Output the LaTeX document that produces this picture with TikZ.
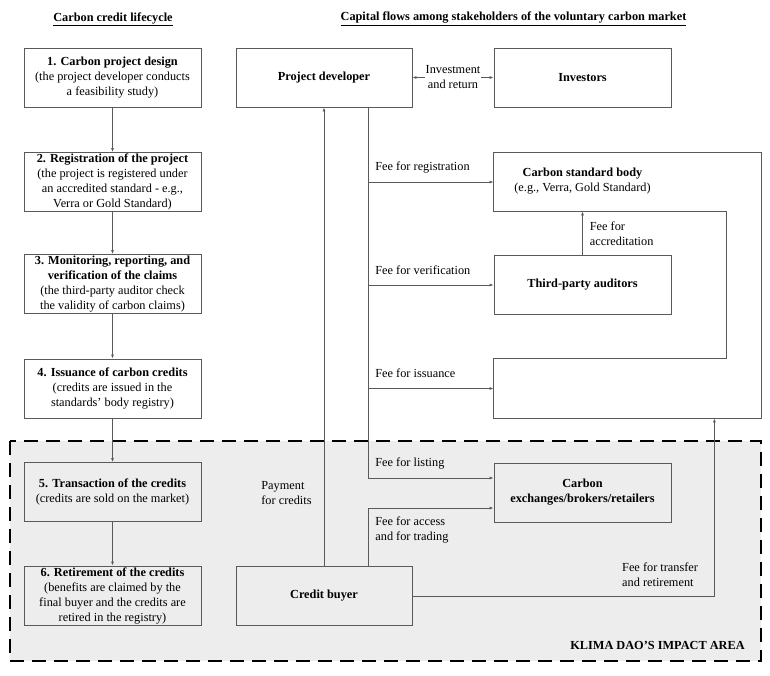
\documentclass[tikz,border=0pt]{standalone}
\usepackage{fontspec}
\setmainfont{Liberation Serif}
\usetikzlibrary{arrows.meta,positioning}

\begin{document}
\fontsize{12.3}{15}\selectfont
\begin{tikzpicture}[x=1pt,y=-1pt,>={Latex[length=4pt,width=3pt]}]
  % some styles
  \tikzset{
    lifebox/.style={
      rectangle,
      minimum width=177pt,
      minimum height=59pt,
      inner sep=0pt,
      align=center,
      draw=black!65,
      line width=0.8pt
    },
    flowbox/.style={lifebox, minimum width=176pt, font=\bfseries},
    line/.style={draw=black!65, line width=0.8pt},
    flow/.style={line, ->},
    fee/.style={inner sep=0pt, align=left},
    region/.style={draw=black, line width=2.2pt, dash pattern=on 14pt off 8pt, fill=black!7}
  }
  \useasboundingbox (0,0) rectangle (770,675);

  % impact area
  \draw[region] (10,441) rectangle (761,661);
  \node[anchor=east, font=\bfseries] (klima) at (749,645) {KLIMA DAO’S IMPACT AREA};

  % titles
  \node (ttlife) at (113,19) {\underline{\textbf{Carbon credit lifecycle}}};
  \node (ttflow) at (513.5,19) {\underline{\textbf{Capital flows among stakeholders of the voluntary carbon market}}};

  % lifecycle
  \foreach \n/\y/\txt in {
      1/77.5/{\textbf{1. Carbon project design}\\(the project developer conducts\\a feasibility study)},
      2/182/{\textbf{2. Registration of the project}\\(the project is registered under\\an accredited standard - e.g.,\\Verra or Gold Standard)},
      3/284/{\textbf{3. Monitoring, reporting, and}\\\textbf{verification of the claims}\\(the third-party auditor check\\the validity of carbon claims)},
      4/388.5/{\textbf{4. Issuance of carbon credits}\\(credits are issued in the\\standards’ body registry)},
      5/492/{\textbf{5. Transaction of the credits}\\(credits are sold on the market)},
      6/595.5/{\textbf{6. Retirement  of the credits}\\(benefits are claimed by the\\final buyer and the credits are\\retired in the registry)}}
    \node[lifebox] (s\n) at (112.5,\y) {\txt};

  \foreach \a/\b in {1/2,2/3,3/4,4/5,5/6}
    \draw[flow] (s\a) -- (s\b);

  % stakeholders
  \node[flowbox] (pd) at (324,77.5) {Project developer};
  \node[flowbox, minimum width=177pt] (inv) at (582.5,77.5) {Investors};
  \node[flowbox, minimum width=177pt] (aud) at (582.5,285) {Third-party auditors};
  \node[flowbox, minimum width=177pt] (exch) at (582.5,492.5) {Carbon\\exchanges/brokers/retailers};
  \node[flowbox] (cb) at (324,596) {Credit buyer};

  % standard body outline
  \node[lifebox, draw=none, minimum width=267pt, minimum height=58pt] (std) at (627.5,182) {};
  \node[lifebox, draw=none, minimum width=267pt, minimum height=59pt] (stdlow) at (627.5,388.5) {};
  \draw[line] (std.south west) -- (std.north west) -- (std.north east) -- (stdlow.south east)
    -- (stdlow.south west) -- (stdlow.north west) -- ([xshift=-35pt]stdlow.north east)
    -- ([xshift=-35pt]std.south east) -- cycle;
  \node[align=center] (stdtxt) at (582.5,181) {\textbf{Carbon standard body}\\(e.g., Verra, Gold Standard)};

  % flows
  \draw[line, <->] (pd) -- node[fill=white, align=center, inner sep=1pt] (lblinv) {Investment\\and return} (inv);

  \coordinate (pdtap) at ([xshift=44pt]pd.south);
  \foreach \tgt/\txt in {std/Fee for registration, aud/Fee for verification, stdlow/Fee for issuance}
    \draw[flow] (pdtap |- \tgt.west) -- node[fee, pos=0, anchor=west, xshift=7pt, yshift=15pt] (lbl\tgt) {\txt} (\tgt.west);
  \draw[flow] (pdtap) |- node[fee, pos=0.5, anchor=west, xshift=7pt, yshift=15pt] (lbllst) {Fee for listing} ([yshift=14.5pt]exch.west);

  \coordinate (cbtap) at ([xshift=44pt]cb.north);
  \draw[flow] (cbtap) |- node[fee, pos=0.5, anchor=north west, xshift=7pt, yshift=-8pt] (lblacc) {Fee for access\\and for trading} ([yshift=-15.5pt]exch.west);

  \draw[flow] (cb.north) -- node[fee, pos=0.16, anchor=east, xshift=-12pt] (lblpay) {Payment\\for credits} (pd.south);

  \draw[flow] (aud.north) -- node[fee, midway, anchor=west, xshift=7pt] (lblacr) {Fee for\\accreditation} (aud.north |- std.south);

  \draw[flow] (cb.east) -| node[fee, pos=0.5, anchor=south east, xshift=-16pt, yshift=9pt] (lblxfer) {Fee for transfer\\and retirement} ([xshift=-47pt]stdlow.south east);

\end{tikzpicture}
\end{document}
